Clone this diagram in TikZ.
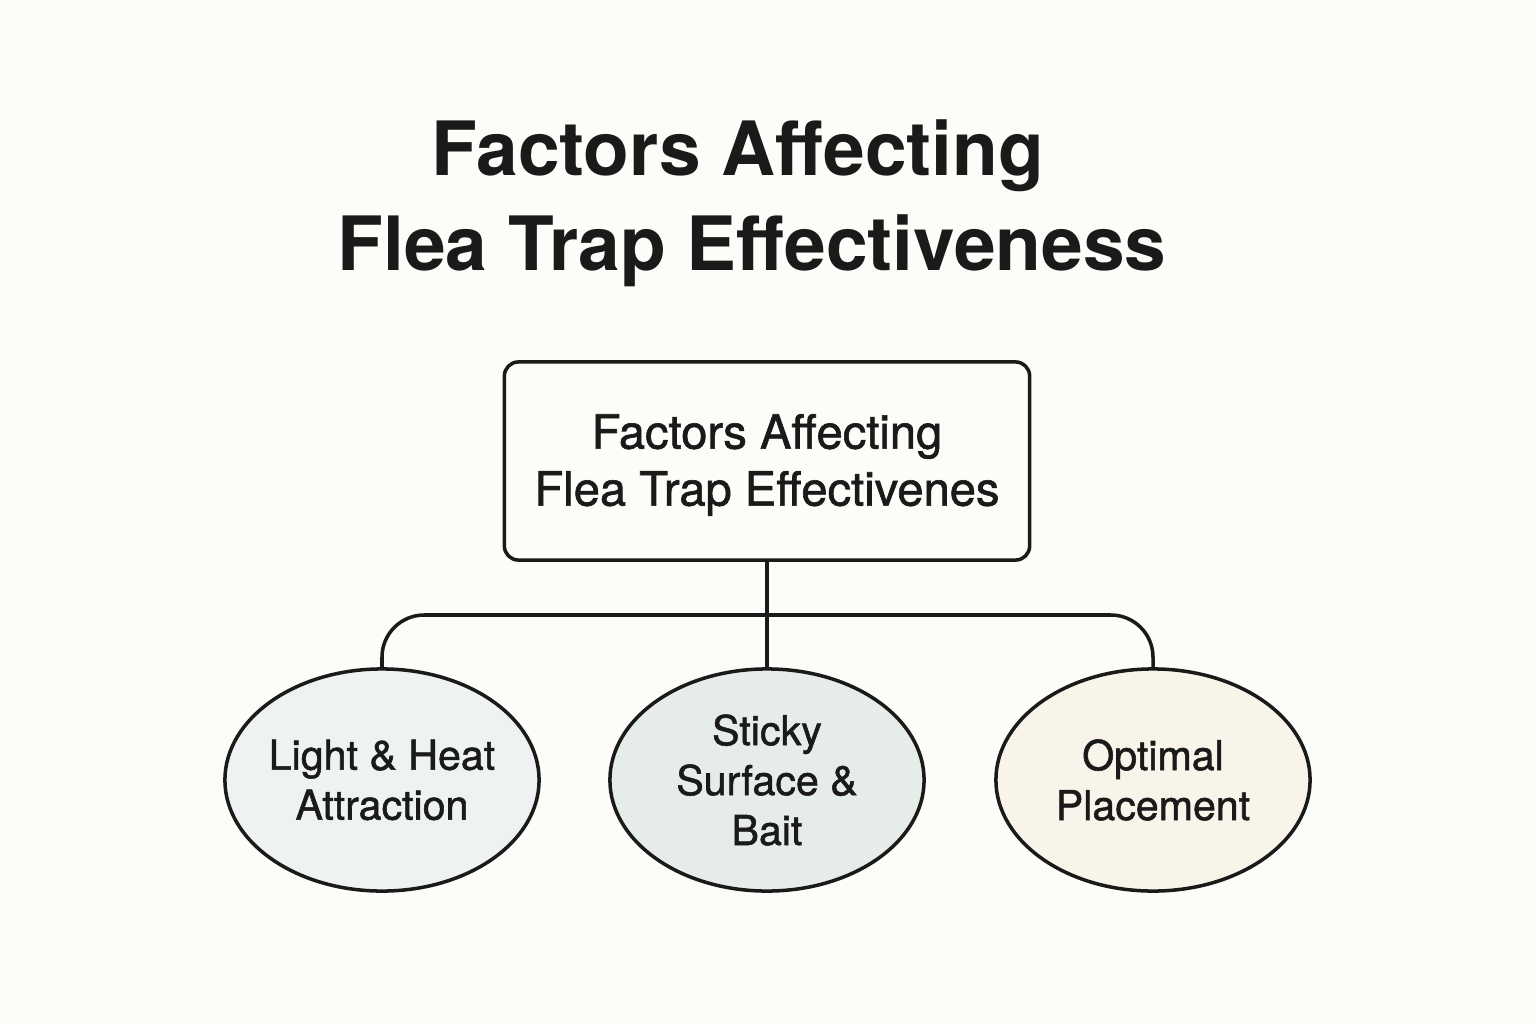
\documentclass[tikz,border=0pt]{standalone}
\usepackage{fontspec}
\setmainfont{TeX Gyre Heros}
\newfontfamily\mediumfont[FakeBold=1.3]{TeX Gyre Heros}
\usetikzlibrary{shapes.geometric}

\definecolor{paper}{HTML}{FCFCF8}
\definecolor{ink}{HTML}{1A1A1A}
\definecolor{lightfill}{HTML}{EEF2F3}
\definecolor{stickyfill}{HTML}{E6ECE8}
\definecolor{placefill}{HTML}{F8F4EA}

\begin{document}
\begin{tikzpicture}[x=0.01cm, y=-0.01cm]

    \tikzset{%
    every factor/.style={
        ellipse,
        draw=ink,
        line width=1pt,
        minimum width=3.14cm,
        minimum height=2.22cm,
        inner sep=-4pt,
        align=center,
        text=ink,
        font=\mediumfont\fontsize{11.7}{14.2}\selectfont
        },
    root box/.style={
        rectangle,
        rounded corners=4pt,
        draw=ink,
        line width=1pt,
        minimum width=5.25cm,
        minimum height=1.98cm,
        align=center,
        text=ink,
        font=\mediumfont\fontsize{13.4}{16.2}\selectfont
        },
    branch/.style={
        draw=ink,
        line width=1pt
        },
    }

    % Page and background
    \fill [paper] (0,0) rectangle (1536,1024);
    \useasboundingbox (0,0) rectangle (1536,1024);

    % Title
    \node [align=center, text=ink, font=\bfseries\fontsize{21.3}{27}\selectfont] (title) at (752,203)
    {Factors Affecting\hspace*{0.28cm}\\Flea Trap Effectiveness};

    % Root box
    \node [root box] (root) at (767,461) {};
    \node [align=center, text=ink, font=\mediumfont\fontsize{13.4}{16.2}\selectfont] (root-text) at (767,465)
    {Factors Affecting\\Flea Trap Effectivenes};

    % Factor ellipses
    \foreach \m/\x/\c/\l in {light/382/lightfill/{Light \& Heat\\Attraction},
                             sticky/767/stickyfill/{Sticky\\Surface \&\\Bait},
                             place/1153/placefill/{Optimal\\Placement}}
    \node [every factor, fill=\c] (\m) at (\x,780) {\l};

    % Branch lines
    \coordinate (split) at (767,615);
    \draw [branch] (root.south) -- (sticky.north);
    \draw [branch, rounded corners=12pt] (light.north) |- (split) -| (place.north);

\end{tikzpicture}
\end{document}
